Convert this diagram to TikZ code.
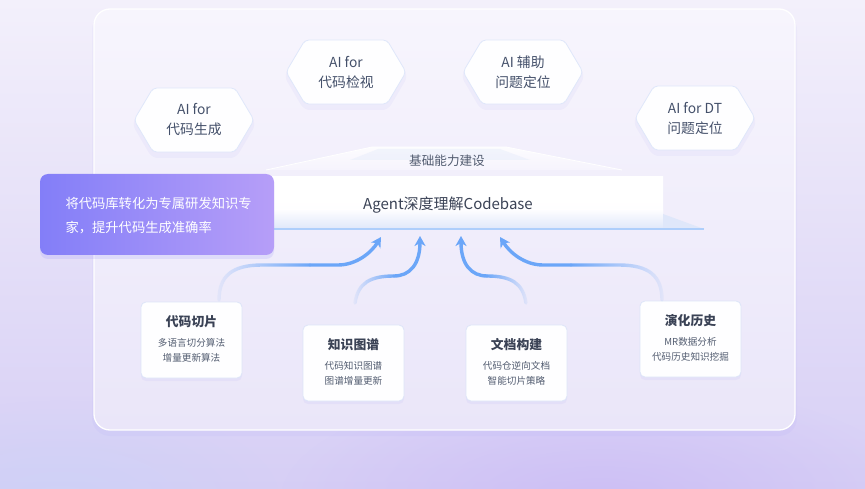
\documentclass[tikz,border=0pt]{standalone}
\usepackage{fontspec}
\setmainfont{Noto Sans CJK SC}
\usetikzlibrary{arrows.meta,shadows,fadings}
\definecolor{arrowblue}{HTML}{6BA6F8}
\definecolor{txtdark}{HTML}{3A4255}
\definecolor{hextxt}{HTML}{44506A}
\definecolor{subtxt}{HTML}{525C70}
\definecolor{bgtop}{HTML}{F3F0FB}
\definecolor{bgbot}{HTML}{D6CEF5}
\definecolor{paneltop}{HTML}{F7F5FD}
\definecolor{panelbot}{HTML}{EAE6F9}
\definecolor{purpA}{HTML}{837EF8}
\definecolor{purpB}{HTML}{B69EF8}
\definecolor{cardline}{HTML}{DDE5F8}
\definecolor{hexline}{HTML}{DFE7FA}
\definecolor{glowP}{HTML}{C9B8F6}
\definecolor{glowB}{HTML}{CBD3F8}
\tikzfading[name=fadeR, left color=transparent!92, right color=transparent!0]
\tikzfading[name=fadeL, left color=transparent!0, right color=transparent!92]
\tikzfading[name=softglow, inner color=transparent!30, outer color=transparent!100]
\tikzset{
  hexshape/.style={fill=white!85!paneltop, draw=hexline, line width=.8pt, rounded corners=4pt},
  hexshadow/.style={fill=purpA, opacity=.06, rounded corners=6pt},
  hextext/.style={align=center, text=hextxt, font=\fontsize{13.8}{20}\selectfont},
  card/.style={fill=white!88!paneltop, draw=cardline, line width=.8pt, rounded corners=5pt,
    minimum width=101pt, minimum height=76pt, inner sep=0pt,
    drop shadow={shadow xshift=0pt, shadow yshift=-3pt, opacity=.07, fill=purpA}},
  cardtitle/.style={text=txtdark, font=\fontsize{12.8}{15}\selectfont\bfseries},
  cardsub/.style={text=subtxt, align=center, font=\fontsize{9.6}{15}\selectfont},
  flow/.style={draw=arrowblue, line width=3.4pt, line cap=round},
  flowhead/.style={flow, -{Stealth[length=10pt,width=11pt,inset=3pt]}},
}
\newcommand\hexa[4]{%
  \fill[hexshadow] ({#2-62},{#3+4}) -- ({#2-42},{#3-30}) -- ({#2+42},{#3-30}) -- ({#2+62},{#3+4}) -- ({#2+42},{#3+38}) -- ({#2-42},{#3+38}) -- cycle;
  \draw[hexshape] ({#2-60},{#3}) -- ({#2-41},{#3-32}) -- ({#2+41},{#3-32}) -- ({#2+60},{#3}) -- ({#2+41},{#3+32}) -- ({#2-41},{#3+32}) -- cycle;
  \node[hextext] (#1) at (#2,#3) {#4};}
\begin{document}
\begin{tikzpicture}[x=1pt,y=-1pt]
\useasboundingbox (0,0) rectangle (865,489);
% background
\shade[top color=bgtop, bottom color=bgbot] (0,0) rectangle (865,489);
\fill[glowP, path fading=softglow] (600,500) ellipse [x radius=320pt, y radius=120pt];
\fill[glowB, path fading=softglow] (60,500) ellipse [x radius=220pt, y radius=100pt];
% panel
\fill[purpA, opacity=.05, rounded corners=18pt] (92,12) rectangle (797,436);
\shade[top color=paneltop, bottom color=panelbot, rounded corners=16pt] (94,9) rectangle (795,430);
\draw[white, line width=1.3pt, rounded corners=16pt] (94,9) rectangle (795,430);
% hexagons
\hexa{h1}{194}{120}{AI for\\代码生成}
\hexa{h2}{346}{72}{AI for\\代码检视}
\hexa{h3}{523}{72}{AI 辅助\\问题定位}
\hexa{h4}{695}{118}{AI for DT\\问题定位}
% platform roof
\shade[top color=white!70!paneltop, bottom color=paneltop!90!panelbot] (266,170) -- (372,147) -- (506,147) -- (622,170) -- cycle;
\fill[hexline, opacity=.35] (378,149) -- (500,149) -- (530,160) -- (350,160) -- cycle;
\draw[white, line width=.8pt] (266,170) -- (372,147) -- (506,147) -- (622,170);
\node[text=subtxt, font=\fontsize{12.6}{15}\selectfont] (roof) at (447,161) {基础能力建设};
% platform face
\shade[top color=white, bottom color=white!80!paneltop, middle color=white!95!paneltop] (270,177) rectangle (663,229);
\shade[top color=white!80!paneltop, bottom color=hexline] (270,210) rectangle (663,229);
\fill[hexline] (663,214) -- (704,229) -- (663,229) -- cycle;
\draw[arrowblue!55, line width=1.6pt] (270,229) -- (704,229);
\node[text=txtdark, font=\fontsize{15}{18}\selectfont] (core) at (448,205) {Agent深度理解Codebase};
\coordinate (t1) at (381,237);
\coordinate (t2) at (420,236);
\coordinate (t3) at (461,236);
\coordinate (t4) at (500,237);
% purple box
\shade[left color=purpA, right color=purpB, rounded corners=8pt, drop shadow={shadow xshift=0pt, shadow yshift=-4pt, opacity=.15, fill=purpA}] (40,174) rectangle (274,255);
\node[anchor=west, align=left, text=white, font=\fontsize{13.3}{24}\selectfont] (note) at (62,216) {将代码库转化为专属研发知识专\\家，提升代码生成准确率};
% cards
\node[card] (c1) at (191.5,340) {};
\node[card] (c2) at (353.5,363) {};
\node[card] (c3) at (516.5,363) {};
\node[card] (c4) at (690.5,339) {};
\node[cardtitle] (c1t) at ([yshift=-20pt]c1.north) {代码切片};
\node[cardsub] (c1s) at ([yshift=-48.5pt]c1.north) {多语言切分算法\\增量更新算法};
\node[cardtitle] (c2t) at ([yshift=-20pt]c2.north) {知识图谱};
\node[cardsub] (c2s) at ([yshift=-48.5pt]c2.north) {代码知识图谱\\图谱增量更新};
\node[cardtitle] (c3t) at ([yshift=-20pt]c3.north) {文档构建};
\node[cardsub] (c3s) at ([yshift=-48.5pt]c3.north) {代码仓逆向文档\\智能切片策略};
\node[cardtitle] (c4t) at ([yshift=-20pt]c4.north) {演化历史};
\node[cardsub] (c4s) at ([yshift=-48.5pt]c4.north) {MR数据分析\\代码历史知识挖掘};
% arrows
\coordinate (s1) at (219,300);
\coordinate (s2) at (355,303);
\coordinate (s3) at (526,303);
\coordinate (s4) at (662,300);
\draw[flow, path fading=fadeR] (s1) .. controls (219,276) and (232,265) .. (262,265) -- (310,265);
\draw[flowhead] (310,265) -- (338,265) .. controls (356,265) and (371,253) .. (t1);
\draw[flow, path fading=fadeR] (s2) .. controls (358,283) and (370,276) .. (394,276);
\draw[flowhead] (394,276) .. controls (410,276) and (420,264) .. (t2);
\draw[flow, path fading=fadeL] (s3) .. controls (523,283) and (511,276) .. (487,276);
\draw[flowhead] (487,276) .. controls (471,276) and (461,264) .. (t3);
\draw[flow, path fading=fadeL] (s4) .. controls (662,276) and (649,265) .. (619,265) -- (571,265);
\draw[flowhead] (571,265) -- (543,265) .. controls (525,265) and (510,253) .. (t4);
\end{tikzpicture}
\end{document}
